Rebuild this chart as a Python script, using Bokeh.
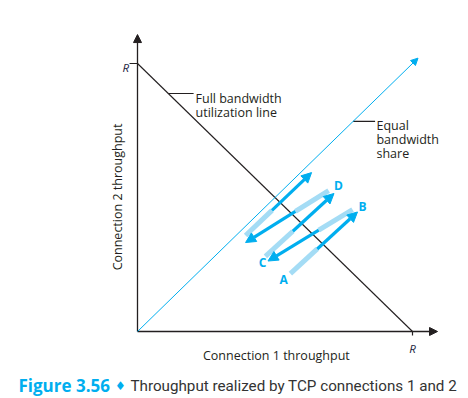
from bokeh.plotting import figure
from bokeh.models import Range1d, Arrow, NormalHead, ColumnDataSource
from bokeh.core.properties import value
from bokeh.embed import file_html
from bokeh.resources import INLINE

# ---- data (in units of R) ----
R = 1.0
full_x = [0.0, R]
full_y = [R, 0.0]
equal_x = [0.0, 1.02]
equal_y = [0.0, 1.02]

# throughput trajectory arrows (start -> end)
traj_x0 = [0.556, 0.782, 0.465, 0.695, 0.393]
traj_y0 = [0.216, 0.455, 0.280, 0.526, 0.358]
traj_x1 = [0.800, 0.4745, 0.7145, 0.393, 0.633]
traj_y1 = [0.446, 0.263, 0.515, 0.332, 0.593]

point_names = ["A", "B", "C", "D"]
point_x = [0.531, 0.818, 0.455, 0.731]
point_y = [0.194, 0.466, 0.257, 0.545]

axis_x_end = 1.091
axis_y_end = 1.108

CYAN = "#00aeef"
LIGHT = "#a4dcf5"
INK = "#231f20"
FONT = value("Open Sans")

# ---- figure: frame covers the whole canvas; 1 unit = 275 px (x), 268 px (y)
W, H = 466, 396
SX, SY = 275.0, 268.0
OX, OY = 137.0, 331.0
p = figure(width=W, height=H, output_backend="svg", toolbar_location=None,
           x_axis_type=None, y_axis_type=None, min_border=0,
           x_range=Range1d((0 - OX) / SX, (W - OX) / SX),
           y_range=Range1d((OY - H) / SY, (OY - 0) / SY))
p.grid.visible = False
p.outline_line_color = None
p.background_fill_color = "white"

# axes with arrow heads
p.add_layout(Arrow(end=NormalHead(size=8, fill_color=INK, line_color=INK, line_width=1),
                   x_start=0, y_start=0, x_end=axis_x_end, y_end=0,
                   line_color=INK, line_width=1.3))
p.add_layout(Arrow(end=NormalHead(size=8, fill_color=INK, line_color=INK, line_width=1),
                   x_start=0, y_start=0, x_end=0, y_end=axis_y_end,
                   line_color=INK, line_width=1.3))
# R ticks
p.segment(x0=[-0.029, R], y0=[R, 0.0], x1=[0.0, R], y1=[R, -0.015],
          line_color=INK, line_width=1.2)
p.text(x=[-0.031], y=[0.984], text=["R"], text_font=FONT, text_font_size="11.5px",
       text_font_style="italic", text_align="right", text_baseline="alphabetic",
       text_color="#1c2541")
p.text(x=[R], y=[-0.0646], text=["R"], text_font=FONT, text_font_size="11.5px",
       text_font_style="italic", text_align="center", text_baseline="alphabetic",
       text_color="#1c2541")

# full bandwidth utilization line
p.line(full_x, full_y, line_color=INK, line_width=1.1)
# equal bandwidth share line
p.add_layout(Arrow(end=NormalHead(size=7, fill_color=CYAN, line_color=CYAN, line_width=1),
                   x_start=equal_x[0], y_start=equal_y[0], x_end=equal_x[1], y_end=equal_y[1],
                   line_color=CYAN, line_width=1))

# leader lines and labels
p.segment(x0=[0.113, 0.784], y0=[0.888, 0.784], x1=[0.204, 0.864], y1=[0.888, 0.784],
          line_color=INK, line_width=1.2)
p.text(x=[0.211, 0.211], y=[0.868, 0.818], text=["Full bandwidth", "utilization line"],
       text_font=FONT, text_font_size="12.5px", text_align="left",
       text_baseline="alphabetic", text_color=INK)
p.text(x=[0.869, 0.869, 0.869], y=[0.769, 0.716, 0.665],
       text=["Equal", "bandwidth", "share"],
       text_font=FONT, text_font_size="12.5px", text_align="left",
       text_baseline="alphabetic", text_color=INK)

# axis titles
p.text(x=[0.505], y=[-0.0896], text=["Connection 1 throughput"], text_font=FONT,
       text_font_size="12.5px", text_align="center", text_baseline="alphabetic",
       text_color=INK)
p.text(x=[-0.0727], y=[0.502], text=["Connection 2 throughput"], text_font=FONT,
       text_font_size="12.5px", text_align="center", text_baseline="middle",
       angle=1.5707963, text_color=INK)

# trajectory: light tail then dark arrow
frac = 0.4
mid_x = [a + frac * (b - a) for a, b in zip(traj_x0, traj_x1)]
mid_y = [a + frac * (b - a) for a, b in zip(traj_y0, traj_y1)]
p.segment(x0=traj_x0, y0=traj_y0, x1=mid_x, y1=mid_y, line_color=LIGHT,
          line_width=5, line_cap="butt")
src = ColumnDataSource(dict(xs=mid_x, ys=mid_y, xe=traj_x1, ye=traj_y1))
p.add_layout(Arrow(end=NormalHead(size=10, fill_color=CYAN, line_color=CYAN, line_width=1),
                   source=src, x_start="xs", y_start="ys", x_end="xe", y_end="ye",
                   line_color=CYAN, line_width=3.2))

p.text(x=point_x, y=point_y, text=point_names, text_font=FONT, text_font_size="12px",
       text_font_style="bold", text_align="center", text_baseline="middle",
       text_color=CYAN)

# caption
cap_y = (OY - 385) / SY
p.text(x=[(18 - OX) / SX], y=[cap_y], text=["Figure 3.56"], text_font=FONT,
       text_font_size="17px", text_font_style="bold", text_align="left",
       text_baseline="alphabetic", text_color=CYAN)
p.text(x=[(120 - OX) / SX], y=[cap_y], text=["\u2666"], text_font=value("DejaVu Sans"),
       text_font_size="12px", text_align="center", text_baseline="alphabetic",
       text_color=CYAN)
p.text(x=[(130 - OX) / SX], y=[cap_y], text=["Throughput realized by TCP connections 1 and 2"],
       text_font=value("Roboto"), text_font_size="15.2px", text_align="left",
       text_baseline="alphabetic", text_color="#333333")

open("out.html", "w").write(file_html(p, INLINE))
